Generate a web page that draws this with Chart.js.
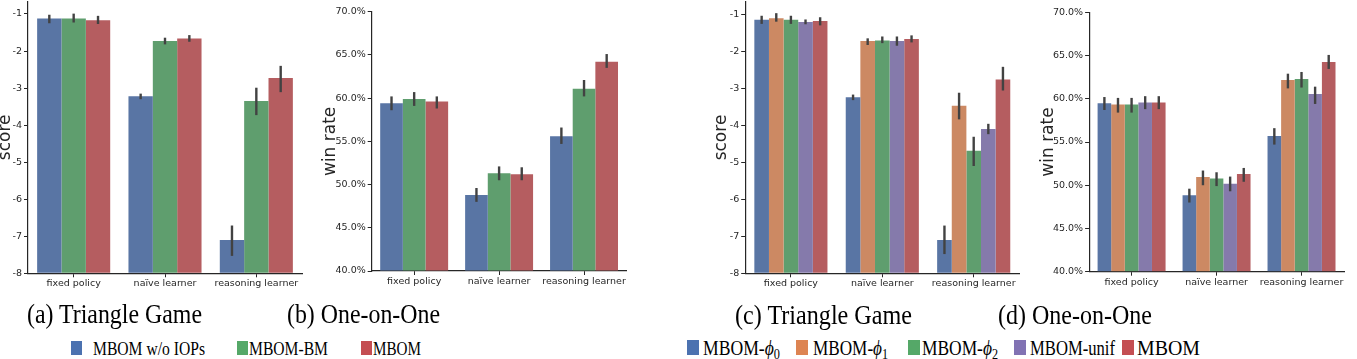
<!DOCTYPE html>
<html>
<head>
<meta charset="utf-8">
<script src="https://cdn.jsdelivr.net/npm/chart.js@4.4.1/dist/chart.umd.min.js"></script>
<style>
  html, body { margin: 0; padding: 0; background: #fff; }
  #wrap { position: relative; width: 1357px; height: 359px; overflow: hidden; background: #fff; }
  canvas { position: absolute; top: 0; }
  .txt { position: absolute; white-space: nowrap; font-family: "Liberation Serif", "DejaVu Serif", serif; color: #000; line-height: 1; transform-origin: 0 0; }
  .txt sub { font-size: 70%; line-height: 0; vertical-align: -0.28em; font-style: normal; }
  .sq { position: absolute; }
</style>
</head>
<body>
<div id="wrap">
  <canvas id="cA" width="325" height="300" style="left:-5px"></canvas>
  <canvas id="cB" width="320" height="300" style="left:320px"></canvas>
  <canvas id="cC" width="325" height="300" style="left:711px"></canvas>
  <canvas id="cD" width="319" height="300" style="left:1038px"></canvas>
</div>
<script>
// ---------------- DATA ----------------
const categories = ['fixed policy', 'naïve learner', 'reasoning learner'];
const scoreTicks = [-1, -2, -3, -4, -5, -6, -7, -8];
const winTicks = [40, 45, 50, 55, 60, 65, 70];

const legendNames3 = ['MBOM w/o IOPs', 'MBOM-BM', 'MBOM'];
const legendNames5 = ['MBOM-<i>ϕ</i><sub>0</sub>', 'MBOM-<i>ϕ</i><sub>1</sub>', 'MBOM-<i>ϕ</i><sub>2</sub>', 'MBOM-unif', 'MBOM'];
const captions = ['(a) Triangle Game', '(b) One-on-One', '(c) Triangle Game', '(d) One-on-One'];

// (a) Triangle Game, score
const a_woIOP = [-1.12, -3.22, -7.10];
const a_woIOP_ci = [[-1.25, -1.02], [-3.30, -3.15], [-7.53, -6.71]];
const a_BM = [-1.12, -1.73, -3.35];
const a_BM_ci = [[-1.23, -0.99], [-1.82, -1.64], [-3.73, -2.99]];
const a_MBOM = [-1.17, -1.66, -2.73];
const a_MBOM_ci = [[-1.27, -1.05], [-1.75, -1.57], [-3.11, -2.40]];

// (b) One-on-One, win rate (%)
const b_woIOP = [59.4, 48.8, 55.6];
const b_woIOP_ci = [[58.6, 60.2], [48.0, 49.6], [54.7, 56.6]];
const b_BM = [59.9, 51.3, 61.1];
const b_BM_ci = [[59.1, 60.7], [50.5, 52.1], [60.2, 62.1]];
const b_MBOM = [59.6, 51.2, 64.2];
const b_MBOM_ci = [[58.8, 60.2], [50.5, 52.0], [63.5, 65.1]];

// (c) Triangle Game, score
const c_phi0 = [-1.15, -3.24, -7.10];
const c_phi0_ci = [[-1.26, -1.04], [-3.32, -3.17], [-7.48, -6.71]];
const c_phi1 = [-1.11, -1.72, -3.47];
const c_phi1_ci = [[-1.20, -0.97], [-1.83, -1.65], [-3.84, -3.12]];
const c_phi2 = [-1.15, -1.71, -4.69];
const c_phi2_ci = [[-1.26, -1.04], [-1.78, -1.60], [-5.10, -4.31]];
const c_unif = [-1.21, -1.72, -4.10];
const c_unif_ci = [[-1.27, -1.14], [-1.85, -1.60], [-4.24, -3.96]];
const c_MBOM = [-1.18, -1.67, -2.76];
const c_MBOM_ci = [[-1.30, -1.08], [-1.76, -1.57], [-3.06, -2.42]];

// (d) One-on-One, win rate (%)
const d_phi0 = [59.47, 48.85, 55.68];
const d_phi0_ci = [[58.7, 60.2], [48.0, 49.6], [54.7, 56.6]];
const d_phi1 = [59.35, 50.94, 62.16];
const d_phi1_ci = [[58.4, 60.1], [50.0, 51.7], [61.2, 62.9]];
const d_phi2 = [59.35, 50.79, 62.28];
const d_phi2_ci = [[58.4, 60.1], [49.9, 51.5], [61.3, 63.1]];
const d_unif = [59.58, 50.17, 60.54];
const d_unif_ci = [[58.8, 60.3], [49.3, 51.0], [59.4, 61.4]];
const d_MBOM = [59.58, 51.29, 64.25];
const d_MBOM_ci = [[58.8, 60.3], [50.4, 52.0], [63.45, 65.07]];

// ---------------- STYLE ----------------
const barColors = { blue: '#5975a4', orange: '#cc8963', green: '#5f9e6e', purple: '#857aab', red: '#b55d60' };
const legendColors = { blue: '#4c72b0', orange: '#dd8452', green: '#55a868', purple: '#8172b3', red: '#c44e52' };
const INK = '#262626';

const errorBars = {
  id: 'errorBars',
  afterDatasetsDraw(chart) {
    const ctx = chart.ctx, ys = chart.scales.y;
    chart.data.datasets.forEach((ds, i) => {
      const meta = chart.getDatasetMeta(i);
      meta.data.forEach((bar, j) => {
        const ci = ds.ci[j];
        ctx.save();
        ctx.strokeStyle = '#424242';
        ctx.lineWidth = 2.4;
        ctx.lineCap = 'butt';
        ctx.beginPath();
        ctx.moveTo(bar.x, ys.getPixelForValue(ci[0]));
        ctx.lineTo(bar.x, ys.getPixelForValue(ci[1]));
        ctx.stroke();
        ctx.restore();
      });
    });
  }
};

function makeChart(id, cfg) {
  const el = document.getElementById(id);
  return new Chart(el, {
    type: 'bar',
    data: {
      labels: categories,
      datasets: cfg.series.map(s => ({
        label: s.name, data: s.data, ci: s.ci,
        backgroundColor: s.color, borderWidth: 0, base: cfg.min,
        categoryPercentage: 0.8, barPercentage: 1.0
      }))
    },
    options: {
      responsive: false, animation: false, devicePixelRatio: 1,
      layout: { padding: { left: 0, right: cfg.padR, top: cfg.top, bottom: 0 } },
      plugins: { legend: { display: false }, tooltip: { enabled: false }, title: { display: false } },
      scales: {
        x: {
          offset: true,
          grid: { display: true, drawOnChartArea: false, drawTicks: true, tickLength: 4, tickColor: INK, tickWidth: 1, offset: false },
          border: { display: true, color: INK, width: 1.2 },
          ticks: { color: INK, font: { family: 'DejaVu Sans', size: 9.5 }, padding: 1, maxRotation: 0, autoSkip: false },
          afterFit(s) { s.height = cfg.xH; s.paddingLeft = 0; s.paddingRight = 0; }
        },
        y: {
          min: cfg.min, max: cfg.max,
          afterBuildTicks(s) { s.ticks = cfg.ticks.map(v => ({ value: v })); },
          grid: { display: true, drawOnChartArea: false, drawTicks: true, tickLength: 4, tickColor: INK, tickWidth: 1 },
          border: { display: true, color: INK, width: 1.2 },
          ticks: { color: INK, font: { family: 'DejaVu Sans', size: 9.5 }, padding: 2, callback: cfg.fmt },
          title: { display: true, text: cfg.title, color: INK, font: { family: 'DejaVu Sans', size: 17 }, padding: 0 },
          afterFit(s) { s.width = cfg.yW; s.paddingTop = 0; s.paddingBottom = 0; }
        }
      }
    },
    plugins: [errorBars]
  });
}

const fmtScore = v => String(v);
const fmtWin = v => v.toFixed(1) + '%';

makeChart('cA', {
  series: [
    { name: legendNames3[0], data: a_woIOP, ci: a_woIOP_ci, color: barColors.blue },
    { name: legendNames3[1], data: a_BM, ci: a_BM_ci, color: barColors.green },
    { name: legendNames3[2], data: a_MBOM, ci: a_MBOM_ci, color: barColors.red }
  ],
  min: -8, max: -0.66, ticks: scoreTicks, fmt: fmtScore, title: 'score',
  yW: 33, padR: 18, top: 1.4, xH: 26.7
});
makeChart('cB', {
  series: [
    { name: legendNames3[0], data: b_woIOP, ci: b_woIOP_ci, color: barColors.blue },
    { name: legendNames3[1], data: b_BM, ci: b_BM_ci, color: barColors.green },
    { name: legendNames3[2], data: b_MBOM, ci: b_MBOM_ci, color: barColors.red }
  ],
  min: 40, max: 70, ticks: winTicks, fmt: fmtWin, title: 'win rate',
  yW: 51.7, padR: 13.5, top: 11.7, xH: 29
});
makeChart('cC', {
  series: [
    { name: 'phi0', data: c_phi0, ci: c_phi0_ci, color: barColors.blue },
    { name: 'phi1', data: c_phi1, ci: c_phi1_ci, color: barColors.orange },
    { name: 'phi2', data: c_phi2, ci: c_phi2_ci, color: barColors.green },
    { name: 'unif', data: c_unif, ci: c_unif_ci, color: barColors.purple },
    { name: 'MBOM', data: c_MBOM, ci: c_MBOM_ci, color: barColors.red }
  ],
  min: -8, max: -0.66, ticks: scoreTicks, fmt: fmtScore, title: 'score',
  yW: 34.2, padR: 16.6, top: 1.7, xH: 26.7
});
makeChart('cD', {
  series: [
    { name: 'phi0', data: d_phi0, ci: d_phi0_ci, color: barColors.blue },
    { name: 'phi1', data: d_phi1, ci: d_phi1_ci, color: barColors.orange },
    { name: 'phi2', data: d_phi2, ci: d_phi2_ci, color: barColors.green },
    { name: 'unif', data: d_unif, ci: d_unif_ci, color: barColors.purple },
    { name: 'MBOM', data: d_MBOM, ci: d_MBOM_ci, color: barColors.red }
  ],
  min: 40, max: 70, ticks: winTicks, fmt: fmtWin, title: 'win rate',
  yW: 51.1, padR: 13, top: 12.3, xH: 28.3
});

// ---------------- TEXT: captions and legends ----------------
const wrap = document.getElementById('wrap');
function addText(html, left, right, baseline, size) {
  const d = document.createElement('div');
  d.className = 'txt';
  d.style.fontSize = size + 'px';
  d.innerHTML = html;
  wrap.appendChild(d);
  d.style.left = left + 'px';
  d.style.top = (baseline - 0.8375 * size) + 'px';
  const w = d.getBoundingClientRect().width;
  d.style.transform = 'scaleX(' + ((right - left) / w) + ')';
}
function addSquare(color, left, top, w, h) {
  const s = document.createElement('div');
  s.className = 'sq';
  Object.assign(s.style, { left: left + 'px', top: top + 'px', width: w + 'px', height: h + 'px', background: color });
  wrap.appendChild(s);
}

addText(captions[0], 27, 202, 323, 28);
addText(captions[1], 287, 440, 323, 28);
addText(captions[2], 735, 912, 324, 28);
addText(captions[3], 998, 1152, 324, 28);

// legend 1
const lg1Colors = [legendColors.blue, legendColors.green, legendColors.red];
const lg1Sq = [71, 237, 361];
const lg1Txt = [[93, 205], [249, 328], [373, 421]];
legendNames3.forEach((n, i) => {
  addSquare(lg1Colors[i], lg1Sq[i], 341, 11, 14);
  addText(n, lg1Txt[i][0], lg1Txt[i][1], 354.5, 19);
});

// legend 2
const lg2Colors = [legendColors.blue, legendColors.orange, legendColors.green, legendColors.purple, legendColors.red];
const lg2Sq = [687, 796, 908, 1014, 1122];
const lg2Txt = [[703, 780], [813, 888], [922, 998], [1030, 1115], [1137, 1200]];
legendNames5.forEach((n, i) => {
  addSquare(lg2Colors[i], lg2Sq[i], 340, 12, 15);
  addText(n, lg2Txt[i][0], lg2Txt[i][1], 355.5, 22);
});
</script>
</body>
</html>
